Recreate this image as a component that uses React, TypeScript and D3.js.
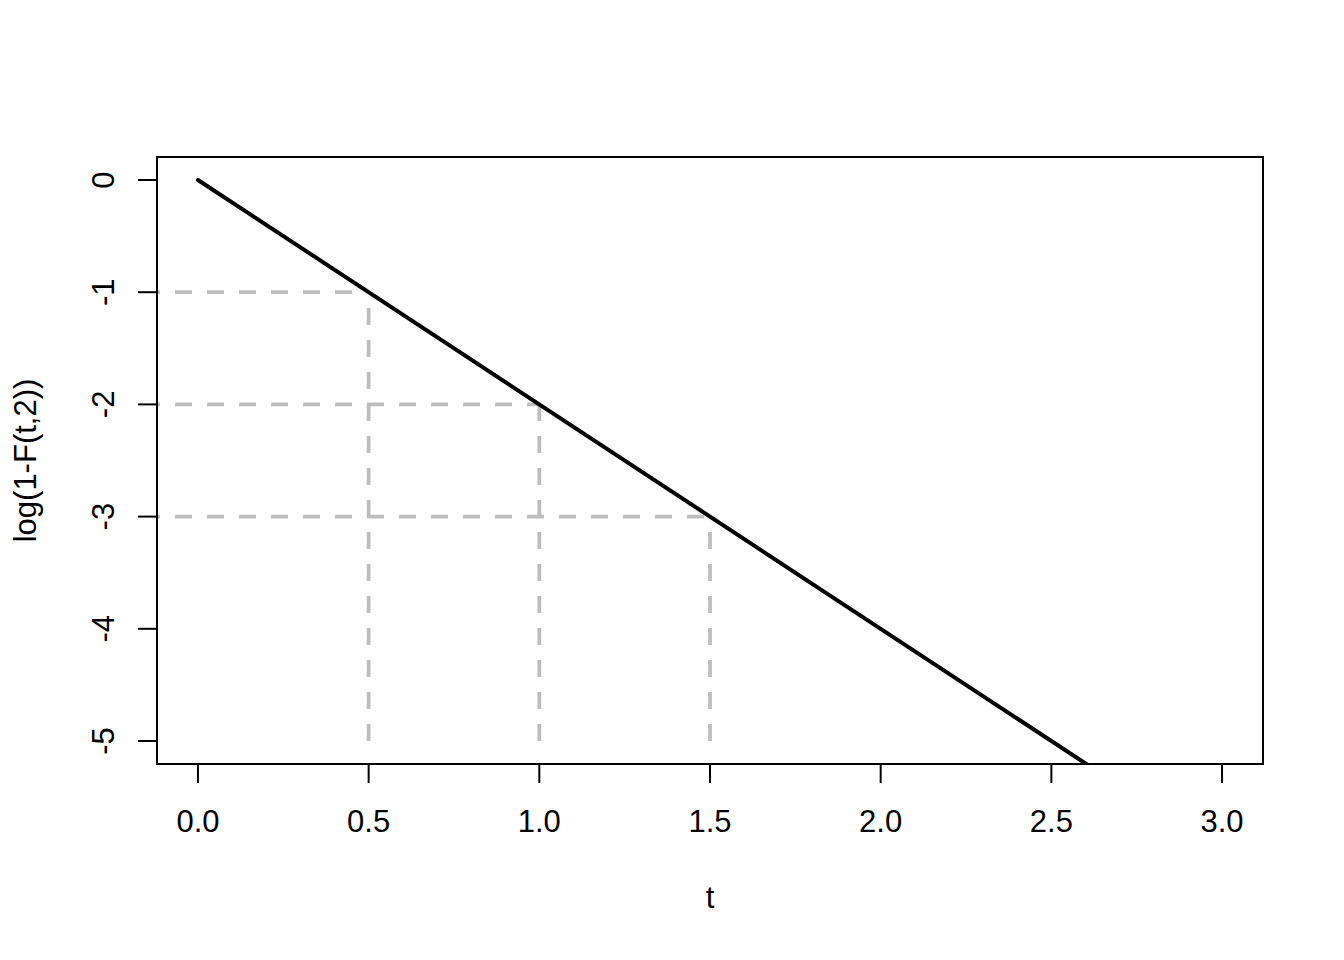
import React from "react";
import * as d3 from "d3";

const W = 1344;
const H = 960;

const xTicks = [0, 0.5, 1, 1.5, 2, 2.5, 3];
const xTickLabels = ["0.0", "0.5", "1.0", "1.5", "2.0", "2.5", "3.0"];
const yTicks = [0, -1, -2, -3, -4, -5];
const yTickLabels = ["0", "-1", "-2", "-3", "-4", "-5"];
const curveT = [0, 3];
const curveY = [0, -6];
const guideT = [0.5, 1.0, 1.5];
const guideY = [-1, -2, -3];
const guideBottom = -5;

export default function App() {
  const left = 157, right = 1263, top = 157, bottom = 764;
  const x = d3.scaleLinear().domain([-0.12, 3.12]).range([left, right]);
  const y = d3.scaleLinear().domain([-5.205, 0.205]).range([bottom, top]);
  const line = d3.line<number>().x((_, i) => x(curveT[i])).y((_, i) => y(curveY[i]));
  const font = "'Liberation Sans', Arial, Helvetica, sans-serif";
  const fs = 31;
  return (
    <svg width={W} height={H} style={{ position: "absolute", left: 0, top: 0, background: "#fff" }} fontFamily={font}>
      <defs>
        <clipPath id="plotclip">
          <rect x={left} y={top} width={right - left} height={bottom - top} />
        </clipPath>
      </defs>
      <rect x={0} y={0} width={W} height={H} fill="#fff" />
      <g clipPath="url(#plotclip)">
        {guideT.map((t, i) => (
          <g key={i}>
            <line x1={left} y1={y(guideY[i])} x2={x(t)} y2={y(guideY[i])}
              stroke="#BEBEBE" strokeWidth={3.8} strokeDasharray="17 15" strokeDashoffset={14} />
            <line x1={x(t)} y1={y(guideBottom)} x2={x(t)} y2={y(guideY[i])}
              stroke="#BEBEBE" strokeWidth={3.8} strokeDasharray="17 15" />
          </g>
        ))}
        <path d={line(curveT) || ""} fill="none" stroke="#000" strokeWidth={4} strokeLinecap="round" />
      </g>
      <rect x={left} y={top} width={right - left} height={bottom - top} fill="none" stroke="#000" strokeWidth={2} />
      <line x1={x(0)} x2={x(3)} y1={bottom} y2={bottom} stroke="#000" strokeWidth={2} />
      {xTicks.map((t, i) => (
        <g key={i}>
          <line x1={x(t)} x2={x(t)} y1={bottom} y2={bottom + 19} stroke="#000" strokeWidth={2} />
          <text x={x(t)} y={832} textAnchor="middle" fontSize={fs} fill="#000">{xTickLabels[i]}</text>
        </g>
      ))}
      <line x1={left} x2={left} y1={y(0)} y2={y(-5)} stroke="#000" strokeWidth={2} />
      {yTicks.map((v, i) => (
        <g key={i}>
          <line x1={left - 19} x2={left} y1={y(v)} y2={y(v)} stroke="#000" strokeWidth={2} />
          <text transform={`translate(${114},${y(v)}) rotate(-90)`} textAnchor="middle" fontSize={fs} fill="#000">{yTickLabels[i]}</text>
        </g>
      ))}
      <text x={(left + right) / 2} y={908} textAnchor="middle" fontSize={fs} fill="#000">t</text>
      <text transform={`translate(${36},${(top + bottom) / 2}) rotate(-90)`} textAnchor="middle" fontSize={fs} fill="#000">log(1-F(t,2))</text>
    </svg>
  );
}
